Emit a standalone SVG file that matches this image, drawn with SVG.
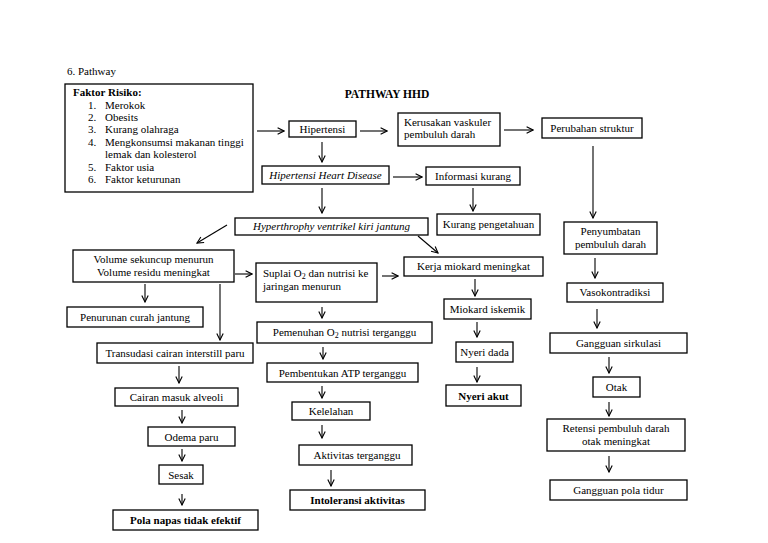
<svg xmlns="http://www.w3.org/2000/svg" width="768" height="543" viewBox="0 0 768 543">
<defs>
<marker id="ah" viewBox="0 0 10 10" refX="9" refY="5" markerWidth="8" markerHeight="8" markerUnits="userSpaceOnUse" orient="auto">
<path d="M1,1 L9,5 L1,9" fill="none" stroke="#000" stroke-width="1.4"/>
</marker>
<style>
.b{fill:#fff;stroke:#000;stroke-width:1.3}
text{font-family:"Liberation Serif","Times New Roman",serif;font-size:11px;fill:#000}
.c{text-anchor:middle}
.bo{font-weight:bold}
.it{font-style:italic}
.ln{stroke:#000;stroke-width:1.1;fill:none;marker-end:url(#ah)}
</style>
</defs>
<rect width="768" height="543" fill="#fff"/>
<text x="67" y="75">6. Pathway</text>
<text x="387" y="98" class="c bo" style="font-size:11.5px">PATHWAY HHD</text>

<g id="faktor">
<rect class="b" x="65" y="84" width="188" height="108"/>
<text x="73" y="96" class="bo">Faktor Risiko:</text>
<text x="88" y="109">1.</text><text x="105" y="109">Merokok</text>
<text x="88" y="121">2.</text><text x="105" y="121">Obesits</text>
<text x="88" y="133">3.</text><text x="105" y="133">Kurang olahraga</text>
<text x="88" y="146">4.</text><text x="105" y="146">Mengkonsumsi makanan tinggi</text>
<text x="105" y="158">lemak dan kolesterol</text>
<text x="88" y="171">5.</text><text x="105" y="171">Faktor usia</text>
<text x="88" y="183">6.</text><text x="105" y="183">Faktor keturunan</text>
</g>
<g id="hipertensi"><rect class="b" x="289" y="121" width="67" height="16"/><text x="322.5" y="133" class="c">Hipertensi</text></g>
<g id="kerusakan"><rect class="b" x="398" y="113" width="102" height="33"/><text x="404" y="126">Kerusakan vaskuler</text><text x="404" y="138">pembuluh  darah</text></g>
<g id="perubahan"><rect class="b" x="542" y="118" width="100" height="20"/><text x="592" y="132" class="c">Perubahan struktur</text></g>
<g id="hhd"><rect class="b" x="262" y="166" width="127" height="18"/><text x="325.5" y="179" class="c it">Hipertensi Heart Disease</text></g>
<g id="informasi"><rect class="b" x="426" y="167" width="94" height="18"/><text x="473" y="180" class="c">Informasi kurang</text></g>
<g id="hyper"><rect class="b" x="235" y="218" width="193" height="17"/><text x="331.5" y="230" class="c it">Hyperthrophy ventrikel kiri jantung</text></g>
<g id="kurang"><rect class="b" x="437" y="214" width="103" height="21"/><text x="488.5" y="228" class="c">Kurang pengetahuan</text></g>
<g id="penyumbatan"><rect class="b" x="564" y="222" width="93" height="32"/><text x="610.5" y="235" class="c">Penyumbatan</text><text x="610.5" y="248" class="c">pembuluh darah</text></g>
<g id="volume"><rect class="b" x="73" y="250" width="161" height="32"/><text x="153.5" y="263" class="c">Volume sekuncup menurun</text><text x="153.5" y="276" class="c">Volume residu meningkat</text></g>
<g id="suplai"><rect class="b" x="256" y="263" width="121" height="39"/><text x="263" y="277">Suplai O<tspan font-size="8" dy="2">2</tspan><tspan dy="-2"> dan nutrisi ke</tspan></text><text x="263" y="290">jaringan menurun</text></g>
<g id="kerja"><rect class="b" x="404" y="257" width="139" height="19"/><text x="473.5" y="270" class="c">Kerja miokard meningkat</text></g>
<g id="penurunan"><rect class="b" x="67" y="307" width="136" height="20"/><text x="135" y="321" class="c">Penurunan curah jantung</text></g>
<g id="vaso"><rect class="b" x="567" y="283" width="96" height="19"/><text x="615" y="296" class="c">Vasokontradiksi</text></g>
<g id="miokard"><rect class="b" x="444" y="299" width="87" height="20"/><text x="487.5" y="313" class="c">Miokard iskemik</text></g>
<g id="pemenuhan"><rect class="b" x="257" y="322" width="175" height="21"/><text x="344.5" y="336" class="c">Pemenuhan O<tspan font-size="8" dy="2">2</tspan><tspan dy="-2"> nutrisi terganggu</tspan></text></g>
<g id="transudasi"><rect class="b" x="97" y="343" width="156" height="20"/><text x="175" y="357" class="c">Transudasi cairan interstill paru</text></g>
<g id="sirkulasi"><rect class="b" x="550" y="333" width="137" height="20"/><text x="618.5" y="347" class="c">Gangguan sirkulasi</text></g>
<g id="nyeridada"><rect class="b" x="456" y="342" width="57" height="20"/><text x="484.5" y="356" class="c">Nyeri dada</text></g>
<g id="atp"><rect class="b" x="267" y="363" width="151" height="19"/><text x="342.5" y="377" class="c">Pembentukan ATP terganggu</text></g>
<g id="otak"><rect class="b" x="593" y="377" width="47" height="20"/><text x="616.5" y="391" class="c">Otak</text></g>
<g id="nyeriakut"><rect class="b" x="446" y="385" width="75" height="21"/><text x="483.5" y="400" class="c bo">Nyeri akut</text></g>
<g id="cairan"><rect class="b" x="115" y="388" width="123" height="18"/><text x="176.5" y="401" class="c">Cairan masuk alveoli</text></g>
<g id="kelelahan"><rect class="b" x="292" y="402" width="78" height="18"/><text x="331" y="415" class="c">Kelelahan</text></g>
<g id="retensi"><rect class="b" x="547" y="419" width="138" height="32"/><text x="616" y="432" class="c">Retensi pembuluh darah</text><text x="616" y="445" class="c">otak meningkat</text></g>
<g id="odema"><rect class="b" x="148" y="427" width="87" height="19"/><text x="191.5" y="441" class="c">Odema paru</text></g>
<g id="aktivitas"><rect class="b" x="299" y="445" width="113" height="20"/><text x="357" y="459" class="c">Aktivitas terganggu</text></g>
<g id="sesak"><rect class="b" x="159" y="465" width="44" height="19"/><text x="181" y="479" class="c">Sesak</text></g>
<g id="polatidur"><rect class="b" x="550" y="480" width="137" height="20"/><text x="618.5" y="494" class="c">Gangguan pola tidur</text></g>
<g id="intoleransi"><rect class="b" x="290" y="490" width="135" height="20"/><text x="357.5" y="504" class="c bo">Intoleransi aktivitas</text></g>
<g id="polanapas"><rect class="b" x="113" y="510" width="145" height="20"/><text x="185.5" y="524" class="c bo">Pola napas tidak efektif</text></g>

<g id="connectors">
<line class="ln" x1="257" y1="131" x2="284" y2="131"/>
<line class="ln" x1="360" y1="131" x2="387" y2="131"/>
<line class="ln" x1="504" y1="130" x2="533" y2="130"/>
<line class="ln" x1="322" y1="142" x2="322" y2="162"/>
<line class="ln" x1="393" y1="177" x2="422" y2="177"/>
<line class="ln" x1="322" y1="188" x2="322" y2="213"/>
<line class="ln" x1="473" y1="188" x2="473" y2="211"/>
<line class="ln" x1="593" y1="146" x2="593" y2="218"/>
<line class="ln" x1="227" y1="225" x2="197" y2="243"/>
<line class="ln" x1="418" y1="236" x2="438" y2="253"/>
<line class="ln" x1="235" y1="274" x2="252" y2="274"/>
<line class="ln" x1="382" y1="276" x2="398" y2="276"/>
<line class="ln" x1="475" y1="279" x2="475" y2="296"/>
<line class="ln" x1="145" y1="284" x2="145" y2="302"/>
<line class="ln" x1="220" y1="284" x2="220" y2="340"/>
<line class="ln" x1="322" y1="307" x2="322" y2="318"/>
<line class="ln" x1="323" y1="347" x2="323" y2="359"/>
<line class="ln" x1="322" y1="386" x2="322" y2="398"/>
<line class="ln" x1="322" y1="425" x2="322" y2="438"/>
<line class="ln" x1="331" y1="470" x2="331" y2="486"/>
<line class="ln" x1="477" y1="322" x2="477" y2="337"/>
<line class="ln" x1="477" y1="367" x2="477" y2="382"/>
<line class="ln" x1="179" y1="366" x2="179" y2="383"/>
<line class="ln" x1="182" y1="410" x2="182" y2="423"/>
<line class="ln" x1="182" y1="449" x2="182" y2="461"/>
<line class="ln" x1="182" y1="494" x2="182" y2="505"/>
<line class="ln" x1="595" y1="258" x2="595" y2="278"/>
<line class="ln" x1="597" y1="309" x2="597" y2="328"/>
<line class="ln" x1="609" y1="357" x2="609" y2="373"/>
<line class="ln" x1="609" y1="402" x2="609" y2="416"/>
<line class="ln" x1="609" y1="456" x2="609" y2="472"/>
</g>
</svg>
